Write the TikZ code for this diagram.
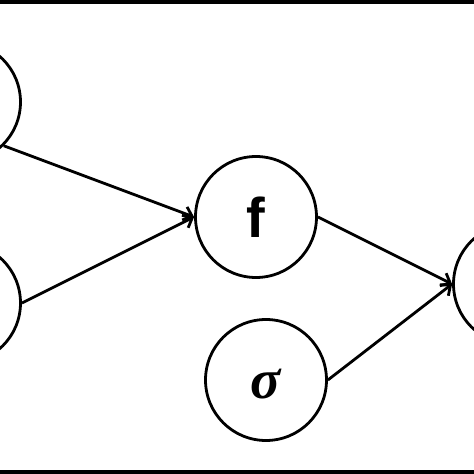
\documentclass[tikz,border=0pt]{standalone}
\usepackage{fontspec}
\setmainfont{Liberation Sans}
\newfontfamily\greekfont{Liberation Serif}
\usepackage{tikz}
\usetikzlibrary{arrows.meta}
\usetikzlibrary{positioning}

\begin{document}
\begin{tikzpicture}[
	x=1pt, y=1pt,
  > = {Straight Barb[length=8pt,width=14pt]},
  neuron/.style = {draw,circle,line width=2.8pt,minimum size=121pt,inner sep=0pt},
  edge/.style = {->,line width=2.8pt}
  ]
	\useasboundingbox (0,0) rectangle (474,474);
	\draw[line width=4pt] (0,472) -- (474,472);
	\draw[line width=4pt] (0,2) -- (474,2);

	\coordinate (@in1) at (-40,372);
	\coordinate (@in2) at (-40,171);
	\coordinate (@f) at (256,257);
	\coordinate (@s) at (266,94);
	\coordinate (@out) at (514,190);

	\node[neuron] (in1) at (@in1) {};
	\node[neuron] (in2) at (@in2) {};
	\node[neuron,font=\fontsize{56}{60}\selectfont\bfseries] (f) at (@f) {f};
	\node[neuron,font=\fontsize{56}{60}\selectfont\greekfont\bfseries\itshape,text height=38pt,text depth=0pt] (sigma) at (@s) {σ};
	\node[neuron] (out) at (@out) {};

	\draw[edge] (in1.-45) -- (f.west);
  	\draw[edge] (in2.east) -- (f.west);
	\draw[edge] (f.east) -- (out.west);
	\draw[edge] (sigma.east) -- (out.west);

\end{tikzpicture}
\end{document}
